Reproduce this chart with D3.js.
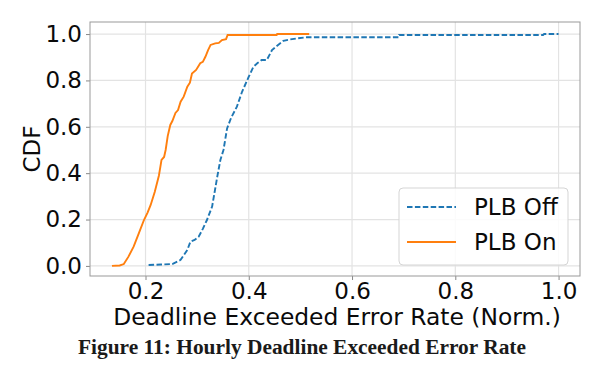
<!DOCTYPE html>
<html>
<head>
<meta charset="utf-8">
<script src="https://cdn.jsdelivr.net/npm/d3@7"></script>
<style>
  body { margin: 0; background: #fff; }
  svg { display: block; }
</style>
</head>
<body>
<svg id="chart" width="600" height="381"></svg>
<script>
// ---- Data ----
const seriesNames = ["PLB Off", "PLB On"];
const xTicks = [0.2, 0.4, 0.6, 0.8, 1.0];
const yTicks = [0.0, 0.2, 0.4, 0.6, 0.8, 1.0];

const offX = [0.206, 0.230, 0.252, 0.268, 0.281, 0.287, 0.295, 0.303, 0.311, 0.319, 0.329, 0.334, 0.339, 0.345, 0.351, 0.358, 0.366, 0.377, 0.387, 0.400, 0.409, 0.417, 0.425, 0.435, 0.445, 0.455, 0.467, 0.480, 0.493, 0.512, 0.690, 0.691, 0.970, 0.972, 1.000];
const offY = [0.004, 0.006, 0.008, 0.026, 0.069, 0.105, 0.112, 0.126, 0.160, 0.198, 0.256, 0.320, 0.385, 0.457, 0.500, 0.593, 0.640, 0.687, 0.751, 0.816, 0.859, 0.875, 0.888, 0.888, 0.931, 0.950, 0.971, 0.977, 0.981, 0.986, 0.986, 0.996, 0.996, 1.000, 1.000];

const onX = [0.135, 0.150, 0.158, 0.167, 0.177, 0.187, 0.197, 0.204, 0.210, 0.218, 0.226, 0.231, 0.236, 0.239, 0.243, 0.248, 0.252, 0.258, 0.263, 0.268, 0.274, 0.281, 0.286, 0.290, 0.298, 0.306, 0.311, 0.316, 0.321, 0.326, 0.335, 0.342, 0.348, 0.356, 0.359, 0.454, 0.455, 0.517];
const onY = [0.000, 0.002, 0.008, 0.040, 0.083, 0.140, 0.198, 0.230, 0.263, 0.320, 0.390, 0.457, 0.470, 0.500, 0.560, 0.608, 0.625, 0.660, 0.672, 0.708, 0.730, 0.773, 0.790, 0.830, 0.845, 0.874, 0.880, 0.902, 0.930, 0.953, 0.960, 0.962, 0.974, 0.978, 0.996, 0.996, 1.000, 1.000];

const colors = ["#1f77b4", "#ff7f0e"];

// ---- Layout ----
const svg = d3.select("#chart");
const L = 90, R = 580, T = 22, B = 276;
const x = d3.scaleLinear().domain([0.0925, 1.0415]).range([L, R]);
const y = d3.scaleLinear().domain([-0.0435, 1.052]).range([B, T]);
const font = "'DejaVu Sans', sans-serif";
const fs = 23;
const txt = "#0a0a0a";

// grid
const g = svg.append("g");
g.selectAll(".gx").data(xTicks).enter().append("line")
  .attr("x1", d => x(d)).attr("x2", d => x(d)).attr("y1", T).attr("y2", B)
  .attr("stroke", "#e3e3e3").attr("stroke-width", 1.2);
g.selectAll(".gy").data(yTicks).enter().append("line")
  .attr("x1", L).attr("x2", R).attr("y1", d => y(d)).attr("y2", d => y(d))
  .attr("stroke", "#e3e3e3").attr("stroke-width", 1.2);

// lines
const line = d3.line().x(d => x(d[0])).y(d => y(d[1]));
const offData = offX.map((v, i) => [v, offY[i]]);
const onData = onX.map((v, i) => [v, onY[i]]);
svg.append("path").datum(offData).attr("d", line)
  .attr("fill", "none").attr("stroke", colors[0]).attr("stroke-width", 1.9)
  .attr("stroke-dasharray", "5.5,2.4");
svg.append("path").datum(onData).attr("d", line)
  .attr("fill", "none").attr("stroke", colors[1]).attr("stroke-width", 1.9);

// axes
const xAxis = d3.axisBottom(x).tickValues(xTicks).tickFormat(d3.format(".1f")).tickSizeOuter(0).tickSize(4).tickPadding(3);
const yAxis = d3.axisLeft(y).tickValues(yTicks).tickFormat(d3.format(".1f")).tickSizeOuter(0).tickSize(4).tickPadding(4);
const gx = svg.append("g").attr("transform", `translate(0,${B})`).call(xAxis);
const gy = svg.append("g").attr("transform", `translate(${L},0)`).call(yAxis);
[gx, gy].forEach(a => {
  a.select(".domain").remove();
  a.selectAll(".tick line").attr("stroke", "#888");
  a.selectAll("text").attr("font-family", font).attr("font-size", fs).attr("fill", txt);
});

// spines
svg.append("rect").attr("x", L).attr("y", T).attr("width", R - L).attr("height", B - T)
  .attr("fill", "none").attr("stroke", "#999").attr("stroke-width", 1);

// axis labels
svg.append("text").attr("x", 337).attr("y", 325).attr("text-anchor", "middle")
  .attr("font-family", font).attr("font-size", 23.4).attr("fill", txt)
  .text("Deadline Exceeded Error Rate (Norm.)");
svg.append("text").attr("transform", `translate(40,${(T + B) / 2}) rotate(-90)`).attr("text-anchor", "middle")
  .attr("font-family", font).attr("font-size", fs).attr("fill", txt)
  .text("CDF");

// caption
svg.append("text").attr("x", 302).attr("y", 354).attr("text-anchor", "middle")
  .attr("font-family", "'Liberation Serif', serif").attr("font-weight", "bold")
  .attr("font-size", 21.4).attr("fill", "#1a1a1a")
  .text("Figure 11: Hourly Deadline Exceeded Error Rate");

// legend
const lg = svg.append("g");
lg.append("rect").attr("x", 399).attr("y", 188).attr("width", 169).attr("height", 77)
  .attr("rx", 4).attr("fill", "#fff").attr("fill-opacity", 0.85).attr("stroke", "#d5d5d5");
seriesNames.forEach((name, i) => {
  const yy = 207 + i * 35;
  lg.append("line").attr("x1", 407).attr("x2", 456).attr("y1", yy).attr("y2", yy)
    .attr("stroke", colors[i]).attr("stroke-width", 1.9)
    .attr("stroke-dasharray", i === 0 ? "5.5,2.4" : null);
  lg.append("text").attr("x", 474).attr("y", yy).attr("dy", "0.36em")
    .attr("font-family", font).attr("font-size", fs).attr("fill", txt).text(name);
});
</script>
</body>
</html>
